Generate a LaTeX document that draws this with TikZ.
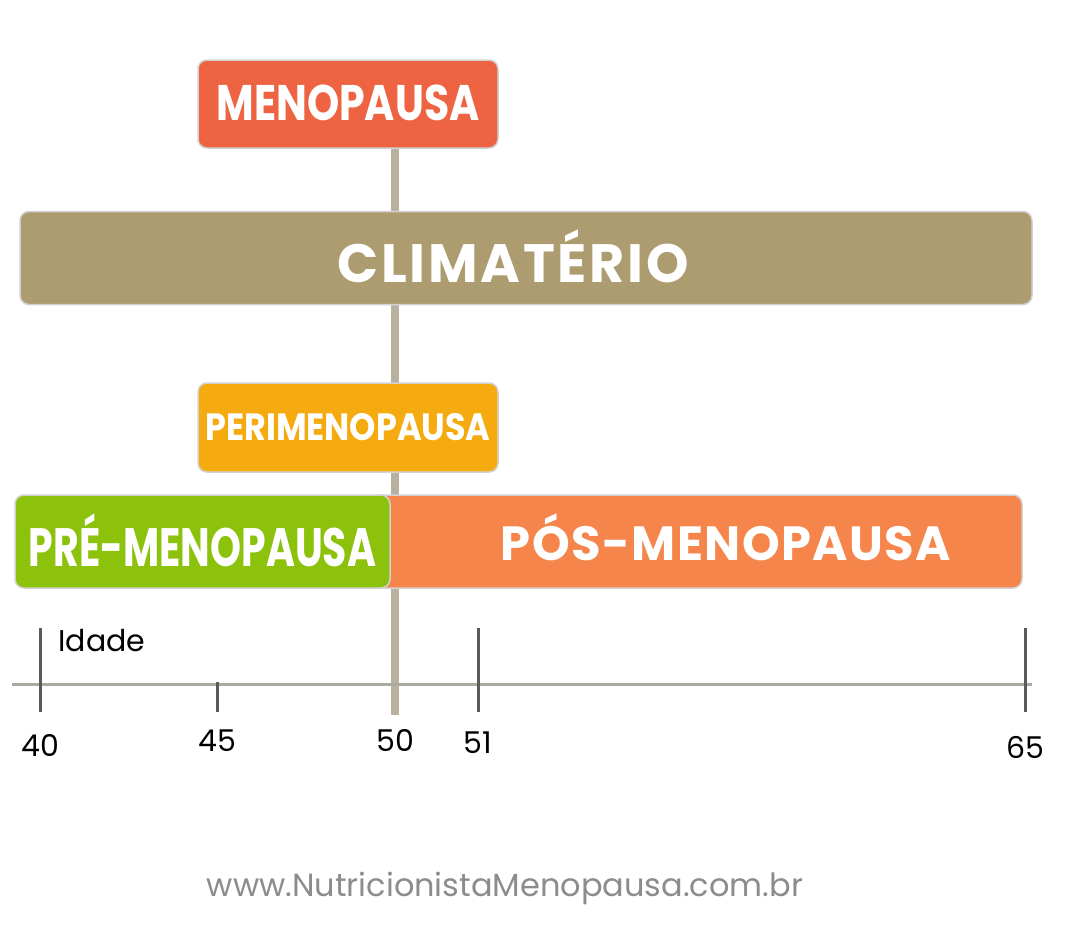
\documentclass[tikz,border=0pt]{standalone}
\usepackage{fontspec}
\setmainfont{Poppins}
\newfontfamily\narrowfont{Poppins}[FakeStretch=0.82]
\newfontfamily\perifont{Poppins}[FakeStretch=0.88]
\newfontfamily\tightfont{Poppins}[FakeStretch=0.73]
\newfontfamily\widefont{Poppins}[LetterSpace=5]
\newfontfamily\posfont{Poppins}[LetterSpace=3]
\usetikzlibrary{positioning}
\definecolor{menored}{HTML}{EE6342}
\definecolor{climfill}{HTML}{AD9C6F}
\definecolor{perifill}{HTML}{F5AA0F}
\definecolor{prefill}{HTML}{8CC20B}
\definecolor{posfill}{HTML}{F5854A}
\definecolor{midline}{HTML}{B9B0A0}
\definecolor{axisgray}{HTML}{ABA9A0}
\definecolor{tickgray}{HTML}{5A5A5A}
\definecolor{footgray}{HTML}{8C8C8C}
\newcommand{\fsz}[1]{\fontsize{#1}{#1}\selectfont}
\tikzset{phase/.style={rounded corners=9pt, draw=gray!35, line width=1.5pt,
inner sep=0pt, text=white, font=\bfseries}}

\begin{document}
\begin{tikzpicture}[x=1pt, y=-1pt, num/.style={text=black, font=\fsz{30}},
tick/.style={tickgray, line width=3pt}, phasetext/.style={text=white, font=\bfseries}]
\useasboundingbox (0,0) rectangle (1080,930);
\fill[white] (0,0) rectangle (1080,930);
\node[phase, fill=menored, minimum width=300pt, minimum height=88pt] (meno) at (348,104) {\raisebox{3pt}{\narrowfont\fsz{50}MENOPAUSA}};
\coordinate (t50) at (395,715);
\draw[midline, line width=8pt] (t50 |- meno.south) -- (t50);
\node[phase, fill=climfill, minimum width=1012pt, minimum height=93pt] (clim) at (526,258) {};
\node[phasetext] (climtext) at (513,256) {\widefont\fsz{54}CLIMATÉRIO};
\node[phase, fill=perifill, minimum width=300pt, minimum height=89pt] (peri) at (348,427.5) {\perifont\fsz{38}PERIMENOPAUSA};
\node[phase, fill=posfill, minimum width=650pt, minimum height=93pt] (pos) at (697,541.5) {};
\node[phasetext] (postext) at (726,537) {\posfont\fsz{48}PÓS-MENOPAUSA};
\node[phase, fill=prefill, minimum width=375pt, minimum height=93pt] (pre) at (202.5,541.5) {\raisebox{3pt}{\tightfont\fsz{54}PRÉ-MENOPAUSA}};
\draw[midline, line width=8pt] (t50 |- pre.south) -- (t50);
\coordinate (axl) at (12,684);
\coordinate (axr) at (1032,684);
\draw[axisgray, line width=3pt] (axl) -- (axr);
\foreach \a/\x/\t/\ly in {40/40/628/745, 45/217/682/741, 51/478/628/743, 65/1025/628/747}{
  \draw[tick] (\x,\t) -- (\x,712);
  \node[num] (n\a) at (\x,\ly) {\a};
}
\node[num] (n50) at (t50 |- 0,741) {50};
\node[num, anchor=west] (idade) at (55,641) {Idade};
\node[text=footgray, font=\fsz{32}] (site) at (505,888) {www.NutricionistaMenopausa.com.br};
\end{tikzpicture}
\end{document}
